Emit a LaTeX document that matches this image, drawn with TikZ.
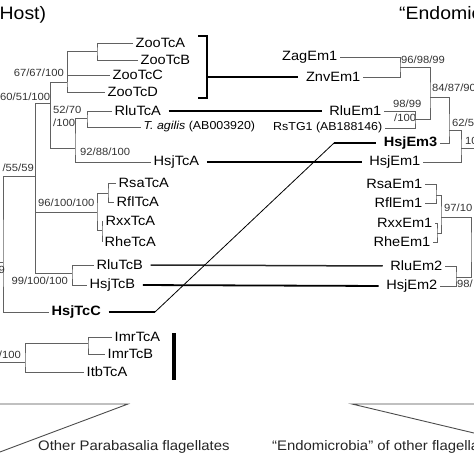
\documentclass[tikz,border=0pt]{standalone}
\usepackage{fontspec}
\setmainfont{Liberation Sans}[FakeStretch=1.08]
\begin{document}
\begin{tikzpicture}[x=1pt,y=-1pt,
  br/.style={draw=black!62, line width=0.75pt},
  assoc/.style={draw=black, line width=1.8pt, shorten <=5pt, shorten >=5pt},
  assocm/.style={draw=black!85, line width=1.5pt, shorten <=5pt, shorten >=5pt},
  leaf/.style={font=\fontsize{13.5}{15}\selectfont, inner sep=2.5pt},
  leafb/.style={font=\fontsize{13.5}{15}\selectfont\bfseries, inner sep=2.5pt},
  leafs/.style={font=\fontsize{11.5}{13}\selectfont, inner sep=2.5pt},
  bs/.style={font=\fontsize{10.4}{12}\selectfont, inner sep=0pt, text=black!80},
  ttl/.style={font=\fontsize{18}{20}\selectfont, inner sep=0pt},
  bot/.style={font=\fontsize{13.8}{16}\selectfont, inner sep=0pt, text=black!85},
  tri/.style={draw=black!70, line width=0.9pt}]
\useasboundingbox (0,0) rectangle (474,474);
\clip (0,0) rectangle (474,474);

% titles
\node[ttl,anchor=west] (thost) at (-7,15) {(Host)};
\node[ttl,anchor=west] (tendo) at (399,13) {“Endomicrobia”};

% ---------- left tree leaves ----------
\node[leaf,anchor=west] (ZooTcA) at (133,43) {ZooTcA};
\node[leaf,anchor=west] (ZooTcB) at (138,60) {ZooTcB};
\node[leaf,anchor=west] (ZooTcC) at (110,75) {ZooTcC};
\node[leaf,anchor=west] (ZooTcD) at (105,92) {ZooTcD};
\node[leaf,anchor=west] (RluTcA) at (112,111) {RluTcA};
\node[leafs,anchor=west] (Tag) at (141,127) {\textit{T. agilis} (AB003920)};
\node[leaf,anchor=west] (HsjTcA) at (151,162) {HsjTcA};
\node[leaf,anchor=west] (RsaTcA) at (116,183) {RsaTcA};
\node[leaf,anchor=west] (RflTcA) at (114,202) {RflTcA};
\node[leaf,anchor=west] (RxxTcA) at (103,221) {RxxTcA};
\node[leaf,anchor=west] (RheTcA) at (102,242) {RheTcA};
\node[leaf,anchor=west] (RluTcB) at (94,265) {RluTcB};
\node[leaf,anchor=west] (HsjTcB) at (87,285) {HsjTcB};
\node[leafb,anchor=west] (HsjTcC) at (49,312) {HsjTcC};
\node[leaf,anchor=west] (ImrTcA) at (112,337) {ImrTcA};
\node[leaf,anchor=west] (ImrTcB) at (105,354) {ImrTcB};
\node[leaf,anchor=west] (ItbTcA) at (84,372) {ItbTcA};

% internal nodes left
\coordinate (nAB) at (97,51);
\coordinate (nZoo) at (67,82);
\coordinate (nRlu) at (87,118);
\coordinate (n92) at (75,148);
\coordinate (n60) at (50,103);
\coordinate (nRR) at (108,193);
\coordinate (nRX) at (102,230);
\coordinate (n96) at (97,212);
\coordinate (n99) at (72,273);
\coordinate (n35) at (35,176);
\coordinate (n0) at (3,262);
\coordinate (s0) at (-2,262);
\coordinate (nImr) at (88,343);
\coordinate (nItb) at (25,362);
\coordinate (s1) at (-2,362);

\draw[br] (ZooTcA.west) -| (nAB) |- (ZooTcB.west);
\draw[br] (nAB) -| (nZoo);
\draw[br] (ZooTcC.west) -| (nZoo) |- (ZooTcD.west);
\draw[br] (nZoo) -| (n60);
\draw[br] (RluTcA.west) -| (nRlu) |- (Tag.west);
\draw[br] (nRlu) -| (n92) |- (HsjTcA.west);
\draw[br] (n60) |- (n92);
\draw[br] (n60) -| (n35);
\draw[br] (RsaTcA.west) -| (nRR) |- (RflTcA.west);
\draw[br] (RxxTcA.west) -| (nRX) |- (RheTcA.west);
\draw[br] (nRR) -| (n96) |- (nRX);
\draw[br] (n96) -- (n96 -| n35);
\draw[br] (RluTcB.west) -| (n99) |- (HsjTcB.west);
\draw[br] (n35) |- (n99);
\draw[br] (n35) -| (n0) |- (HsjTcC.west);
\draw[br] (n0) -- (s0);
\draw[br] (ImrTcA.west) -| (nImr) |- (ImrTcB.west);
\draw[br] (nImr) -| (nItb) |- (ItbTcA.west);
\draw[br] (nItb) -- (s1);

% bootstrap labels left
\node[bs,anchor=east] (b1) at (64,73) {67/67/100};
\node[bs,anchor=west] (b2) at (0,97) {60/51/100};
\node[bs,anchor=west] (b3) at (53,110) {52/70};
\node[bs,anchor=west] (b3b) at (53,123) {/100};
\node[bs,anchor=west] (b4) at (80,152) {92/88/100};
\node[bs,anchor=east] (b5) at (34,168) {/55/59};
\node[bs,anchor=west] (b6) at (38,203) {96/100/100};
\node[bs,anchor=east] (b7) at (68,281) {99/100/100};
\node[bs,anchor=east] (b8) at (5,270) {9};
\node[bs,anchor=east] (b9) at (21,355) {/100};

% ---------- right tree leaves ----------
\node[leaf,anchor=east] (ZagEm1) at (340,57) {ZagEm1};
\node[leaf,anchor=east] (ZnvEm1) at (363,77) {ZnvEm1};
\node[leaf,anchor=east] (RluEm1) at (384,111) {RluEm1};
\node[leafs,anchor=east] (RsTG1) at (385,128) {RsTG1 (AB188146)};
\node[leafb,anchor=east] (HsjEm3) at (440,143) {HsjEm3};
\node[leaf,anchor=east] (HsjEm1) at (423,162) {HsjEm1};
\node[leaf,anchor=east] (RsaEm1) at (425,184) {RsaEm1};
\node[leaf,anchor=east] (RflEm1) at (425,203) {RflEm1};
\node[leaf,anchor=east] (RxxEm1) at (435,223) {RxxEm1};
\node[leaf,anchor=east] (RheEm1) at (433,242) {RheEm1};
\node[leaf,anchor=east] (RluEm2) at (445,266) {RluEm2};
\node[leaf,anchor=east] (HsjEm2) at (440,286) {HsjEm2};

\coordinate (r96) at (400,67);
\coordinate (r98) at (415,119);
\coordinate (r84) at (430,97);
\coordinate (r62) at (449,130);
\coordinate (r10) at (461,148);
\coordinate (r10o) at (476,148);
\coordinate (rRR) at (436,195);
\coordinate (rRX) at (437,233);
\coordinate (r97) at (441,217);
\coordinate (r98b) at (456,277);
\coordinate (rJ) at (471,247);

\draw[br] (ZagEm1.east) -| (r96) |- (ZnvEm1.east);
\draw[br] (RluEm1.east) -| (r98) |- (RsTG1.east);
\draw[br] (r96) -| (r84) |- (r98);
\draw[br] (r84) -| (r62) |- (HsjEm3.east);
\draw[br] (r62) -| (r10) |- (HsjEm1.east);
\draw[br] (r10) -- (r10o);
\draw[br] (RsaEm1.east) -| (rRR) |- (RflEm1.east);
\draw[br] (RxxEm1.east) -| (rRX) |- (RheEm1.east);
\draw[br] (rRR) -| (r97) |- (rRX);
\draw[br] (RluEm2.east) -| (r98b) |- (HsjEm2.east);
\draw[br] (r97) -| (rJ) |- (r98b);

% bootstrap labels right
\node[bs,anchor=west] (c1l) at (401,60) {96/98/99};
\node[bs,anchor=west] (c2l) at (393,104) {98/99};
\node[bs,anchor=west] (c2b) at (394,118) {/100};
\node[bs,anchor=west] (c3l) at (432,88) {84/87/90};
\node[bs,anchor=west] (c4l) at (452,123) {62/5};
\node[bs,anchor=west] (c5l) at (465,141) {10};
\node[bs,anchor=west] (c6l) at (444,208) {97/10};
\node[bs,anchor=west] (c7l) at (457,284) {98/};

% ---------- associations ----------
\draw[draw=black, line width=1.2pt] (198,36) -- (207,36) -- (207,98) -- (198,98);
\coordinate (brk) at (207,77);
\draw[assoc, shorten <=0pt] (brk) -- (ZnvEm1.west);
\draw[assoc] (RluTcA.east) -- (RluEm1.west);
\draw[assoc] (HsjTcA.east) -- (HsjEm1.west);
\draw[assocm] (RluTcB.east) -- (RluEm2.west);
\draw[assoc] (HsjTcB.east) -- (HsjEm2.west);
\coordinate (k1) at (155,312);
\coordinate (k2) at (334,143);
\draw[assoc, shorten >=0pt] (HsjTcC.east) -- (k1);
\draw[black, line width=0.8pt] (k1) -- (k2);
\draw[assoc, shorten <=0pt] (k2) -- (HsjEm3.west);

% bar
\draw[black, line width=3.5pt] (174,333) -- (174,380);

% collapsed triangles
\draw[tri] (-2,404) -- (128,404) -- (-2,452.7);
\draw[tri] (476,404) -- (352,404) -- (476,433.5);
\node[bot,anchor=west] (op) at (38,447) {Other Parabasalia flagellates};
\node[bot,anchor=west] (oe) at (272,447) {“Endomicrobia” of other flagellates};
\end{tikzpicture}
\end{document}
